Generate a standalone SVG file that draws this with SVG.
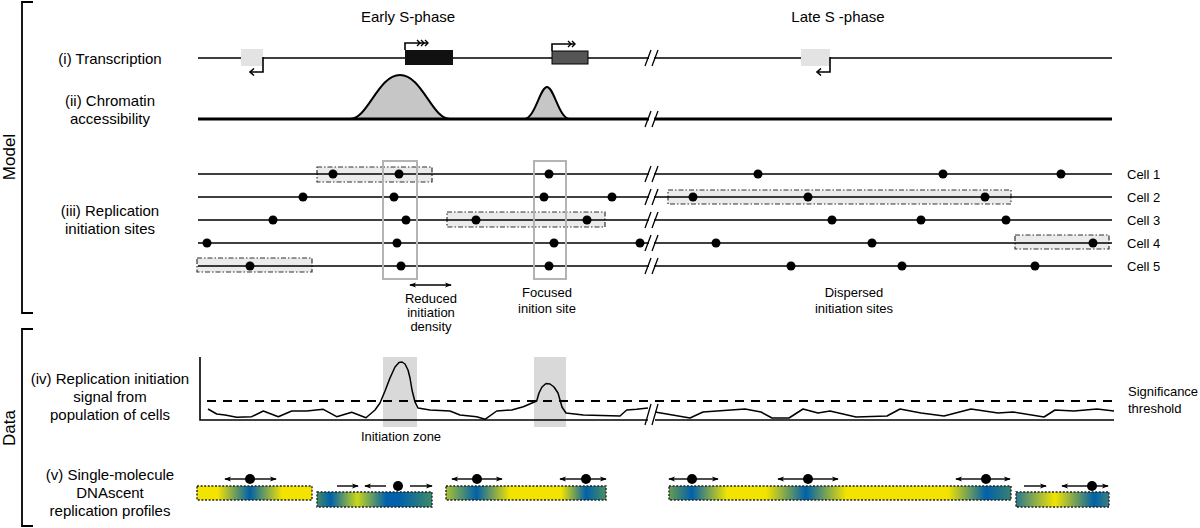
<svg xmlns="http://www.w3.org/2000/svg" width="1200" height="528" viewBox="0 0 1200 528">
<style>
.t{font-family:"Liberation Sans",Arial,Helvetica,sans-serif;fill:#000}
.lbl{font-size:15px;text-anchor:middle}
.sm{font-size:13px}
.mid{text-anchor:middle}
.big{font-size:17px;text-anchor:middle}
.ln{stroke:#000;stroke-width:1.7;fill:none}
.thin{stroke:#000;stroke-width:1.3;fill:none}
.thick{stroke:#000;stroke-width:2.8;fill:none}
.brk{stroke:#000;stroke-width:1.3;fill:none}
.box{fill:#ebebeb;stroke:#333;stroke-width:1.2;stroke-dasharray:5 2 1.5 2}
.vr{fill:none;stroke:#b4b4b4;stroke-width:2}
.bar{stroke:#222;stroke-width:1.4;stroke-dasharray:2 1.6}
.arr{stroke:#000;stroke-width:1.4;fill:none;marker-end:url(#ah)}
.arr2{stroke:#000;stroke-width:1.4;fill:none;marker-end:url(#ah);marker-start:url(#ah)}
</style>
<defs>
<marker id="ah" viewBox="0 0 8 8" refX="7" refY="4" markerWidth="7" markerHeight="7" markerUnits="userSpaceOnUse" orient="auto-start-reverse">
<path d="M0,1 L8,4 L0,7 L2,4 Z" fill="#000"/>
</marker>
<linearGradient id="g1" x1="0" x2="1" y1="0" y2="0">
<stop offset="0" stop-color="#f2e400"/><stop offset="0.18" stop-color="#f2e400"/><stop offset="0.46" stop-color="#0061aa"/><stop offset="0.74" stop-color="#f2e400"/><stop offset="1" stop-color="#f2e400"/>
</linearGradient>
<linearGradient id="g2" x1="0" x2="1" y1="0" y2="0">
<stop offset="0" stop-color="#3f8a68"/><stop offset="0.12" stop-color="#0061aa"/><stop offset="0.35" stop-color="#c9d61a"/><stop offset="0.6" stop-color="#0061aa"/><stop offset="0.72" stop-color="#0061aa"/><stop offset="1" stop-color="#3d8a6a"/>
</linearGradient>
<linearGradient id="g3" x1="0" x2="1" y1="0" y2="0">
<stop offset="0" stop-color="#a8c232"/><stop offset="0.19" stop-color="#0061aa"/><stop offset="0.4" stop-color="#f2e400"/><stop offset="0.72" stop-color="#f2e400"/><stop offset="0.875" stop-color="#0061aa"/><stop offset="1" stop-color="#4a8f62"/>
</linearGradient>
<linearGradient id="g4" x1="0" x2="1" y1="0" y2="0">
<stop offset="0" stop-color="#6a9c50"/><stop offset="0.067" stop-color="#0061aa"/><stop offset="0.17" stop-color="#f2e400"/><stop offset="0.284" stop-color="#f2e400"/><stop offset="0.4" stop-color="#0061aa"/><stop offset="0.518" stop-color="#f2e400"/><stop offset="0.816" stop-color="#f2e400"/><stop offset="0.927" stop-color="#0061aa"/><stop offset="1" stop-color="#3a8070"/>
</linearGradient>
<linearGradient id="g5" x1="0" x2="1" y1="0" y2="0">
<stop offset="0" stop-color="#2a7890"/><stop offset="0.42" stop-color="#f2e400"/><stop offset="0.84" stop-color="#0061aa"/><stop offset="1" stop-color="#3a8080"/>
</linearGradient>
</defs>
<rect width="1200" height="528" fill="#fff"/>

<g id="section-labels">
<path class="thin" style="stroke-width:1.8" d="M33,2 H22 V313 H33"/>
<path class="thin" style="stroke-width:1.8" d="M33,329 H22 V526 H33"/>
<text class="t big" transform="translate(15,157) rotate(-90)">Model</text>
<text class="t big" transform="translate(15,428) rotate(-90)">Data</text>
<text class="t lbl" x="408" y="22">Early S-phase</text>
<text class="t lbl" x="838" y="22">Late S -phase</text>
</g>

<g id="row-labels">
<text class="t lbl" x="110" y="64">(i) Transcription</text>
<text class="t lbl" x="110" y="106">(ii) Chromatin</text>
<text class="t lbl" x="110" y="124">accessibility</text>
<text class="t lbl" x="110" y="216">(iii) Replication</text>
<text class="t lbl" x="110" y="234">initiation sites</text>
<text class="t lbl" x="110" y="384">(iv) Replication initiation</text>
<text class="t lbl" x="110" y="402">signal from</text>
<text class="t lbl" x="110" y="420">population of cells</text>
<text class="t lbl" x="110" y="480">(v) Single-molecule</text>
<text class="t lbl" x="110" y="498">DNAscent</text>
<text class="t lbl" x="110" y="516">replication profiles</text>
</g>

<g id="transcription">
<path class="thin" d="M198,58 H649 M654,58 H1112"/>
<path class="brk" d="M645,66 L651,50 M652,66 L658,50"/>
<rect x="241" y="49" width="22" height="17" fill="#e3e3e3"/>
<path class="thin" style="stroke-width:1.6" d="M263,57 V72 H250"/>
<path class="thin" style="stroke-width:1.6" d="M254,68.5 L250,72 L254,75.5"/>
<rect x="405" y="50" width="48" height="15" fill="#111"/>
<path class="thin" style="stroke-width:1.6" d="M405,50 V43 H428"/>
<path class="thin" style="stroke-width:1.4" d="M417,40 L420,43 L417,46 M421,40 L424,43 L421,46 M425,40 L428,43 L425,46"/>
<rect x="552" y="51" width="36" height="13" fill="#555" stroke="#000" stroke-width="1"/>
<path class="thin" style="stroke-width:1.6" d="M552,51 V44 H575"/>
<path class="thin" style="stroke-width:1.4" d="M568,41 L571,44 L568,47 M572,41 L575,44 L572,47"/>
<rect x="801" y="49" width="29" height="17" fill="#e3e3e3"/>
<path class="thin" style="stroke-width:1.6" d="M830,57 V72 H817"/>
<path class="thin" style="stroke-width:1.6" d="M821,68.5 L817,72 L821,75.5"/>
</g>

<g id="chromatin">
<path d="M350,119 C368,119 378,75 400,75 C422,75 432,119 450,119 Z" fill="#c6c6c6" stroke="#000" stroke-width="2"/>
<path d="M524,119 C535,119 540,87 547,87 C554,87 559,119 570,119 Z" fill="#c6c6c6" stroke="#000" stroke-width="2"/>
<path class="thick" d="M198,119 H649 M654,119 H1112"/>
<path class="brk" d="M645,127 L651,111 M652,127 L658,111"/>
</g>

<g id="cells">
<rect class="box" x="317" y="167" width="115" height="15"/>
<rect class="box" x="668" y="190" width="343" height="14"/>
<rect class="box" x="447" y="212" width="158" height="15"/>
<rect class="box" x="1015" y="235" width="94" height="14"/>
<rect class="box" x="197" y="258" width="115" height="14"/>
<path class="ln" d="M198,174 H649 M654,174 H1112 M198,197 H649 M654,197 H1112 M198,220 H649 M654,220 H1112 M198,243 H649 M654,243 H1112 M198,266 H649 M654,266 H1112"/>
<path class="brk" d="M645,182 L651,166 M652,182 L658,166 M645,205 L651,189 M652,205 L658,189 M645,228 L651,212 M652,228 L658,212 M645,251 L651,235 M652,251 L658,235 M645,274 L651,258 M652,274 L658,258"/>
<rect class="vr" x="383" y="161" width="34" height="118"/>
<rect class="vr" x="534" y="161" width="32" height="118"/>
<g fill="#000">
<circle cx="333" cy="174" r="4.5"/><circle cx="399" cy="174" r="4.5"/><circle cx="549" cy="174" r="4.5"/><circle cx="758" cy="174" r="4.5"/><circle cx="943" cy="174" r="4.5"/><circle cx="1061" cy="174" r="4.5"/>
<circle cx="303" cy="197" r="4.5"/><circle cx="394" cy="197" r="4.5"/><circle cx="544" cy="197" r="4.5"/><circle cx="612" cy="197" r="4.5"/><circle cx="693" cy="197" r="4.5"/><circle cx="808" cy="197" r="4.5"/><circle cx="985" cy="197" r="4.5"/>
<circle cx="273" cy="220" r="4.5"/><circle cx="406" cy="220" r="4.5"/><circle cx="476" cy="220" r="4.5"/><circle cx="587" cy="220" r="4.5"/><circle cx="832" cy="220" r="4.5"/><circle cx="921" cy="220" r="4.5"/><circle cx="1006" cy="220" r="4.5"/>
<circle cx="207" cy="243" r="4.5"/><circle cx="397" cy="243" r="4.5"/><circle cx="554" cy="243" r="4.5"/><circle cx="640" cy="243" r="4.5"/><circle cx="716" cy="243" r="4.5"/><circle cx="872" cy="243" r="4.5"/><circle cx="1093" cy="243" r="4.5"/>
<circle cx="250" cy="266" r="4.5"/><circle cx="401" cy="266" r="4.5"/><circle cx="549" cy="266" r="4.5"/><circle cx="791" cy="266" r="4.5"/><circle cx="902" cy="266" r="4.5"/><circle cx="1035" cy="266" r="4.5"/>
</g>
<text class="t sm" x="1127" y="179">Cell 1</text>
<text class="t sm" x="1127" y="202">Cell 2</text>
<text class="t sm" x="1127" y="225">Cell 3</text>
<text class="t sm" x="1127" y="248">Cell 4</text>
<text class="t sm" x="1127" y="271">Cell 5</text>
<path class="arr2" d="M410,285 H451"/>
<text class="t sm mid" x="431" y="303">Reduced</text>
<text class="t sm mid" x="431" y="317">initiation</text>
<text class="t sm mid" x="431" y="331">density</text>
<text class="t sm mid" x="547" y="297">Focused</text>
<text class="t sm mid" x="547" y="313">inition site</text>
<text class="t sm mid" x="854" y="297">Dispersed</text>
<text class="t sm mid" x="854" y="313">initiation sites</text>
</g>

<g id="signal">
<rect x="383" y="357" width="34" height="70" fill="#d9d9d9"/>
<rect x="534" y="357" width="32" height="70" fill="#d9d9d9"/>
<path class="thin" style="stroke-width:1.6" d="M200,357 V420 H1114"/>
<path d="M207,401 H1114" stroke="#000" stroke-width="2" stroke-dasharray="9 7" fill="none"/>
<polyline fill="none" stroke="#000" stroke-width="1.5" stroke-linejoin="round" points="208,409 216.7,414 225,415 236.7,417.3 251.7,416.7 263.3,411 278.3,416.7 291.7,411 306.7,411 323.3,409.3 336.7,416.7 351.7,412.3 366,417.7 375,410 380,403 385,391 390,378 395,367 399,362.5 402,362 405,364 408,370 410,378 412,390 415,402 418,408 430,410 450,411 460,415 476.7,416.7 485,419.3 496.7,411 511.7,410 523.3,406.7 536.7,401 539,393 542,387 546,383.5 550,384 554,387 558,393 560,400 562,407 566,413 583.3,415 620,416 626.7,410 636.7,409.3 648,408"/>
<polyline fill="none" stroke="#000" stroke-width="1.5" stroke-linejoin="round" points="655,412 690,418 703,412 745,409 761,412 772,418 789,418 803,409 818,413 830,411 856,417 887,416 900,409 921,413 944,416 971,409 998,413 1013,412 1044,417 1055,410 1074,411 1097,409 1114,411"/>
<rect x="648" y="396" width="7" height="30" fill="#fff"/>
<path class="brk" d="M645,425 L651,404 M652,425 L658,404"/>
<text class="t sm mid" x="401" y="441">Initiation zone</text>
<text class="t sm" x="1128" y="396">Significance</text>
<text class="t sm" x="1128" y="413">threshold</text>
</g>

<g id="profiles">
<rect class="bar" x="197" y="486" width="115" height="14" fill="url(#g1)"/>
<rect class="bar" x="317" y="492" width="115" height="15" fill="url(#g2)"/>
<rect class="bar" x="446" y="486" width="160" height="14" fill="url(#g3)"/>
<rect class="bar" x="669" y="486" width="342" height="14" fill="url(#g4)"/>
<rect class="bar" x="1016" y="492" width="93" height="15" fill="url(#g5)"/>
<path class="arr" d="M250,479 H225"/><path class="arr" d="M250,479 H276"/>
<path class="arr" d="M337,486 H358"/><path class="arr" d="M386,486 H365"/><path class="arr" d="M410,486 H432"/>
<path class="arr" d="M477,479 H452"/><path class="arr" d="M477,479 H502"/>
<path class="arr" d="M586,479 H560"/><path class="arr" d="M586,479 H606"/>
<path class="arr" d="M692,479 H669"/><path class="arr" d="M692,479 H718"/>
<path class="arr" d="M808,479 H778"/><path class="arr" d="M808,479 H838"/>
<path class="arr" d="M986,479 H956"/><path class="arr" d="M986,479 H1010"/>
<path class="arr" d="M1024,486 H1046"/><path class="arr" d="M1092,486 H1062"/><path class="arr" d="M1092,486 H1108"/>
<g fill="#000">
<circle cx="250" cy="479" r="5"/><circle cx="398" cy="486" r="5"/><circle cx="477" cy="479" r="5"/><circle cx="586" cy="479" r="5"/>
<circle cx="692" cy="479" r="5"/><circle cx="808" cy="479" r="5"/><circle cx="986" cy="479" r="5"/><circle cx="1092" cy="486" r="5"/>
</g>
</g>
</svg>
